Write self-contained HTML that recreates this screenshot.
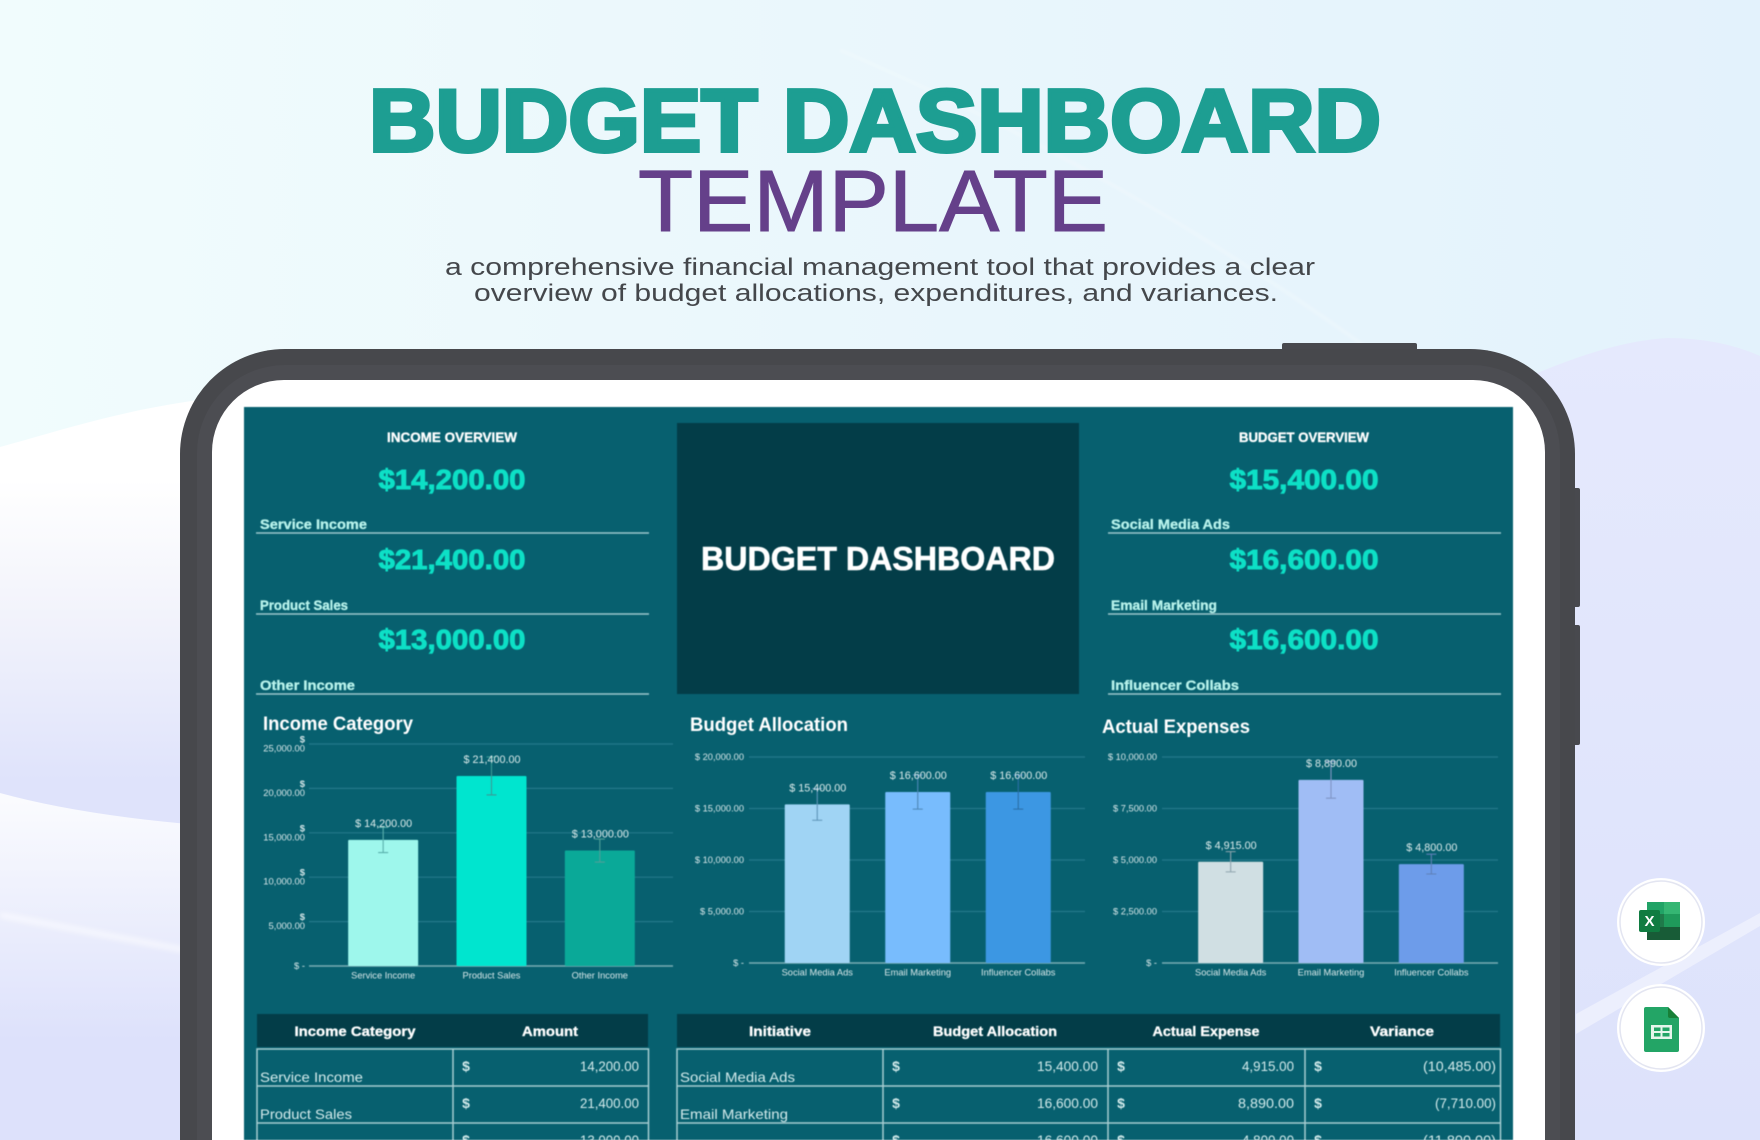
<!DOCTYPE html>
<html lang="en">
<head>
<meta charset="utf-8">
<title>Budget Dashboard Template</title>
<style>
html,body{margin:0;padding:0;width:1760px;height:1140px;overflow:hidden;background:#eaf6fc}
svg{display:block;font-family:"Liberation Sans",sans-serif;overflow:hidden}
.kpi-head{font-size:13.5px;font-weight:700;fill:#fff;stroke:#fff;stroke-width:.3;text-anchor:middle}
.kpi-val{font-size:28px;font-weight:700;fill:#0de0c6;stroke:#0de0c6;stroke-width:.9;text-anchor:middle}
.kpi-lab{font-size:13.5px;font-weight:700;fill:#b8f3ec;stroke:#b8f3ec;stroke-width:.3}
.chart-title{font-size:19px;font-weight:700;fill:#fff}
.th{font-size:14px;font-weight:700;fill:#fff;stroke:#fff;stroke-width:.3;text-anchor:middle}
.td{font-size:14px;fill:#d3ebec}
.cur{font-size:14px;font-weight:700;fill:#d3ebec;text-anchor:middle}
.num{font-size:14px;fill:#d3ebec;text-anchor:end}
.rule{stroke:#9cc7cc;stroke-width:1.6}
.tl{stroke:#a6cdd2;stroke-width:1.5;fill:none}
</style>
</head>
<body>
<svg id="page" width="1760" height="1140" viewBox="0 0 1760 1140" xmlns="http://www.w3.org/2000/svg">
<defs>
<linearGradient id="topBg" x1="0" y1="0" x2="1" y2="0"><stop offset="0" stop-color="#f1fcfd"/><stop offset=".55" stop-color="#e9f6fc"/><stop offset="1" stop-color="#e3f2fc"/></linearGradient>
<linearGradient id="sweep1" gradientUnits="userSpaceOnUse" x1="0" y1="480" x2="0" y2="780"><stop offset="0" stop-color="#fff"/><stop offset=".45" stop-color="#f2f3fb"/><stop offset="1" stop-color="#dfe3fb"/></linearGradient>
<linearGradient id="sweep2" gradientUnits="userSpaceOnUse" x1="0" y1="800" x2="0" y2="1040"><stop offset="0" stop-color="#fafbfe"/><stop offset="1" stop-color="#dde1fb"/></linearGradient>
<linearGradient id="rightLav" gradientUnits="userSpaceOnUse" x1="0" y1="340" x2="0" y2="1140"><stop offset="0" stop-color="#e5e9fd"/><stop offset="1" stop-color="#dde2fb"/></linearGradient>
</defs>

<g>
<rect x="0" y="0" width="1760" height="1140" fill="url(#topBg)"/>
<path d="M0 447C80 425 150 400 280 392L700 380V1140H0Z" fill="url(#sweep1)"/>
<path d="M0 793Q80 815 200 825V1140H0Z" fill="url(#sweep2)"/>
<path d="M0 915Q90 932 185 950" stroke="#fff" stroke-opacity=".65" stroke-width="5" fill="none" style="filter:blur(3px)"/>
<path d="M1500 390Q1600 342 1667 338Q1720 338 1760 356V1140H1500Z" fill="url(#rightLav)"/>
<path d="M1576 1014L1760 913V926L1576 1034Z" fill="#fff" fill-opacity=".42"/>
<path d="M840 50Q1120 170 1370 350" stroke="#fff" stroke-opacity=".28" stroke-width="3" fill="none" style="filter:blur(1.5px)"/>
</g>

<g>
<text x="369" y="151" font-size="88" font-weight="700" fill="#1d9e92" stroke="#1d9e92" stroke-width="4" textLength="1012" lengthAdjust="spacingAndGlyphs">BUDGET DASHBOARD</text>
<text x="638" y="231" font-size="87" fill="#65408a" stroke="#65408a" stroke-width="1" textLength="470" lengthAdjust="spacingAndGlyphs">TEMPLATE</text>
<text x="445" y="275" font-size="24" fill="#44474b" textLength="870" lengthAdjust="spacingAndGlyphs">a comprehensive financial management tool that provides a clear</text>
<text x="474" y="301" font-size="24" fill="#44474b" textLength="804" lengthAdjust="spacingAndGlyphs">overview of budget allocations, expenditures, and variances.</text>
</g>

<g>
<rect x="1282" y="343" width="135" height="12" rx="2" fill="#48494e"/>
<rect x="1570" y="488" width="10" height="119" rx="2" fill="#48494e"/>
<rect x="1570" y="625" width="10" height="120" rx="2" fill="#48494e"/>
<path d="M180 1140V454a105 105 0 0 1 105-105H1470a105 105 0 0 1 105 105V1140Z" fill="#47484c"/>
<path d="M197 1140V453a88 88 0 0 1 88-88H1472a88 88 0 0 1 88 88V1140Z" fill="#4c4d52"/>
<path d="M212 1140V452a72 72 0 0 1 72-72H1473a72 72 0 0 1 72 72V1140Z" fill="#fff"/>
</g>

<g id="dash" style="filter:blur(.55px)">
<rect x="244" y="407" width="1269" height="733" fill="#07606f"/>

<g>
<text class="kpi-head" x="452" y="442" textLength="130" lengthAdjust="spacingAndGlyphs">INCOME OVERVIEW</text>
<text class="kpi-val" x="452" y="489" textLength="147" lengthAdjust="spacingAndGlyphs">$14,200.00</text>
<text class="kpi-lab" x="260" y="529" textLength="107" lengthAdjust="spacingAndGlyphs">Service Income</text>
<line class="rule" x1="256" x2="649" y1="533" y2="533"/>
<text class="kpi-val" x="452" y="569" textLength="147" lengthAdjust="spacingAndGlyphs">$21,400.00</text>
<text class="kpi-lab" x="260" y="610" textLength="88" lengthAdjust="spacingAndGlyphs">Product Sales</text>
<line class="rule" x1="256" x2="649" y1="614" y2="614"/>
<text class="kpi-val" x="452" y="649" textLength="147" lengthAdjust="spacingAndGlyphs">$13,000.00</text>
<text class="kpi-lab" x="260" y="690" textLength="95" lengthAdjust="spacingAndGlyphs">Other Income</text>
<line class="rule" x1="256" x2="649" y1="694" y2="694"/>
</g>

<g>
<rect x="677" y="423" width="402" height="271" fill="#033d48"/>
<text x="701" y="570" font-size="33" font-weight="700" fill="#fff" stroke="#fff" stroke-width=".6" textLength="354" lengthAdjust="spacingAndGlyphs">BUDGET DASHBOARD</text>
</g>

<g>
<text class="kpi-head" x="1304" y="442" textLength="130" lengthAdjust="spacingAndGlyphs">BUDGET OVERVIEW</text>
<text class="kpi-val" x="1304" y="489" textLength="149" lengthAdjust="spacingAndGlyphs">$15,400.00</text>
<text class="kpi-lab" x="1111" y="529" textLength="119" lengthAdjust="spacingAndGlyphs">Social Media Ads</text>
<line class="rule" x1="1108" x2="1501" y1="533" y2="533"/>
<text class="kpi-val" x="1304" y="569" textLength="149" lengthAdjust="spacingAndGlyphs">$16,600.00</text>
<text class="kpi-lab" x="1111" y="610" textLength="106" lengthAdjust="spacingAndGlyphs">Email Marketing</text>
<line class="rule" x1="1108" x2="1501" y1="614" y2="614"/>
<text class="kpi-val" x="1304" y="649" textLength="149" lengthAdjust="spacingAndGlyphs">$16,600.00</text>
<text class="kpi-lab" x="1111" y="690" textLength="128" lengthAdjust="spacingAndGlyphs">Influencer Collabs</text>
<line class="rule" x1="1108" x2="1501" y1="694" y2="694"/>
</g>

<text class="chart-title" x="263" y="730" textLength="150" lengthAdjust="spacingAndGlyphs">Income Category</text>
<text class="chart-title" x="690" y="731" textLength="158" lengthAdjust="spacingAndGlyphs">Budget Allocation</text>
<text class="chart-title" x="1102" y="733" textLength="148" lengthAdjust="spacingAndGlyphs">Actual Expenses</text>
<g id="income-chart"></g>
<g id="budget-chart"></g>
<g id="expense-chart"></g>

<g>
<rect x="257" y="1014" width="391" height="33" fill="#033d48"/>
<text class="th" x="355" y="1036" textLength="121" lengthAdjust="spacingAndGlyphs">Income Category</text>
<text class="th" x="550" y="1036" textLength="56" lengthAdjust="spacingAndGlyphs">Amount</text>
<path class="tl" d="M257 1140V1049H648.5V1140"/>
<line class="tl" x1="257" x2="649" y1="1086" y2="1086"/>
<line class="tl" x1="257" x2="649" y1="1123" y2="1123"/>
<line class="tl" x1="453" x2="453" y1="1049" y2="1140"/>
<text class="td" x="260" y="1082" textLength="103" lengthAdjust="spacingAndGlyphs">Service Income</text>
<text class="cur" x="466" y="1071">$</text>
<text class="num" x="639" y="1071" textLength="59" lengthAdjust="spacingAndGlyphs">14,200.00</text>
<text class="td" x="260" y="1119" textLength="92" lengthAdjust="spacingAndGlyphs">Product Sales</text>
<text class="cur" x="466" y="1108">$</text>
<text class="num" x="639" y="1108" textLength="59" lengthAdjust="spacingAndGlyphs">21,400.00</text>
<text class="cur" x="466" y="1145">$</text>
<text class="num" x="639" y="1145" textLength="59" lengthAdjust="spacingAndGlyphs">13,000.00</text>
</g>

<g>
<rect x="677" y="1014" width="823" height="33" fill="#033d48"/>
<text class="th" x="780" y="1036" textLength="62" lengthAdjust="spacingAndGlyphs">Initiative</text>
<text class="th" x="995" y="1036" textLength="124" lengthAdjust="spacingAndGlyphs">Budget Allocation</text>
<text class="th" x="1206" y="1036" textLength="107" lengthAdjust="spacingAndGlyphs">Actual Expense</text>
<text class="th" x="1402" y="1036" textLength="64" lengthAdjust="spacingAndGlyphs">Variance</text>
<path class="tl" d="M677 1140V1049H1500.5V1140"/>
<line class="tl" x1="677" x2="1501" y1="1086" y2="1086"/>
<line class="tl" x1="677" x2="1501" y1="1123" y2="1123"/>
<line class="tl" x1="883" x2="883" y1="1049" y2="1140"/>
<line class="tl" x1="1108" x2="1108" y1="1049" y2="1140"/>
<line class="tl" x1="1305" x2="1305" y1="1049" y2="1140"/>

<text class="td" x="680" y="1082" textLength="115" lengthAdjust="spacingAndGlyphs">Social Media Ads</text>
<text class="cur" x="896" y="1071">$</text>
<text class="num" x="1098" y="1071" textLength="61" lengthAdjust="spacingAndGlyphs">15,400.00</text>
<text class="cur" x="1121" y="1071">$</text>
<text class="num" x="1294" y="1071" textLength="52" lengthAdjust="spacingAndGlyphs">4,915.00</text>
<text class="cur" x="1318" y="1071">$</text>
<text class="num" x="1496" y="1071" textLength="73" lengthAdjust="spacingAndGlyphs">(10,485.00)</text>

<text class="td" x="680" y="1119" textLength="108" lengthAdjust="spacingAndGlyphs">Email Marketing</text>
<text class="cur" x="896" y="1108">$</text>
<text class="num" x="1098" y="1108" textLength="61" lengthAdjust="spacingAndGlyphs">16,600.00</text>
<text class="cur" x="1121" y="1108">$</text>
<text class="num" x="1294" y="1108" textLength="56" lengthAdjust="spacingAndGlyphs">8,890.00</text>
<text class="cur" x="1318" y="1108">$</text>
<text class="num" x="1496" y="1108" textLength="61" lengthAdjust="spacingAndGlyphs">(7,710.00)</text>

<text class="cur" x="896" y="1145">$</text>
<text class="num" x="1098" y="1145" textLength="61" lengthAdjust="spacingAndGlyphs">16,600.00</text>
<text class="cur" x="1121" y="1145">$</text>
<text class="num" x="1294" y="1145" textLength="52" lengthAdjust="spacingAndGlyphs">4,800.00</text>
<text class="cur" x="1318" y="1145">$</text>
<text class="num" x="1496" y="1145" textLength="73" lengthAdjust="spacingAndGlyphs">(11,800.00)</text>
</g>
</g>

<g>
<circle cx="1661" cy="922" r="44" fill="#fff"/>
<circle cx="1661" cy="922" r="41" fill="none" stroke="#e3e5f1" stroke-width="1.5"/>
<rect x="1647" y="902" width="33" height="38" rx="1.5" fill="#1f7a4a"/>
<rect x="1664" y="902" width="16" height="12" fill="#35b673"/>
<rect x="1664" y="914" width="16" height="13" fill="#1f9a5b"/>
<rect x="1647" y="902" width="17" height="12" fill="#21a366"/>
<rect x="1647" y="927" width="33" height="13" fill="#185c37"/>
<rect x="1639" y="910" width="21" height="22" rx="2" fill="#107c41"/>
<text x="1649.5" y="926" font-size="15" font-weight="700" fill="#fff" text-anchor="middle">X</text>
</g>
<g>
<circle cx="1661" cy="1028" r="44" fill="#fff"/>
<circle cx="1661" cy="1028" r="41" fill="none" stroke="#e3e5f1" stroke-width="1.5"/>
<path d="M1646 1007H1668L1679 1018V1050a2 2 0 0 1-2 2H1646a2 2 0 0 1-2-2V1009a2 2 0 0 1 2-2Z" fill="#23a566"/>
<path d="M1668 1007L1679 1018H1670a2 2 0 0 1-2-2Z" fill="#188038"/>
<path fill-rule="evenodd" d="M1651 1025H1672V1039H1651ZM1654 1027.5V1031H1660.5V1027.5ZM1662.5 1027.5V1031H1669.5V1027.5ZM1654 1033V1036.5H1660.5V1033ZM1662.5 1033V1036.5H1669.5V1033Z" fill="#e6f5ec"/>
</g>
</svg>

<script>
const incomeCategories = ["Service Income", "Product Sales", "Other Income"];
const incomeValues = [14200, 21400, 13000];
const incomeTicks = [0, 5000, 10000, 15000, 20000, 25000];

const budgetCategories = ["Social Media Ads", "Email Marketing", "Influencer Collabs"];
const budgetValues = [15400, 16600, 16600];
const budgetTicks = [0, 5000, 10000, 15000, 20000];

const expenseCategories = ["Social Media Ads", "Email Marketing", "Influencer Collabs"];
const expenseValues = [4915, 8890, 4800];
const expenseTicks = [0, 2500, 5000, 7500, 10000];

const errorShare = [0.1];

const SVG_NS = "http://www.w3.org/2000/svg";

function money(v) {
  return v.toLocaleString("en-US", { minimumFractionDigits: 2, maximumFractionDigits: 2 });
}

function make(tag, parent, attrs, content) {
  const el = document.createElementNS(SVG_NS, tag);
  for (const k in attrs) el.setAttribute(k, attrs[k]);
  if (content !== undefined) el.textContent = content;
  parent.appendChild(el);
  return el;
}

function renderChart(id, categories, values, ticks, o) {
  const root = document.getElementById(id);
  const maxTick = ticks[ticks.length - 1];
  const yScale = v => o.baseY - (v / maxTick) * (o.baseY - o.topY);
  const band = (o.bandRight - o.bandLeft) / categories.length;
  const xScale = i => o.bandLeft + band * (i + 0.5);

  ticks.forEach(t => {
    const y = yScale(t);
    const grid = make("line", root, { x1: o.left, x2: o.right, y1: y, y2: y, stroke: t === 0 ? "#79adb5" : "#24788a", "stroke-width": t === 0 ? 1.6 : 1.2 });
    
    
    if (t === 0) {
      const zero = make("text", root, { x: o.tickX, y: y + 3, "font-size": o.tickSize, fill: "#d8e8ea", "text-anchor": "end" }, "$ -");
      
      
    } else if (o.twoLineTicks) {
      const sym = make("text", root, { x: o.tickX, y: y - 1.5, "font-size": o.tickSize, "font-weight": 700, fill: "#d8e8ea", "text-anchor": "end" }, "$");
      
      
      const num = make("text", root, { x: o.tickX, y: y + 7.5, "font-size": o.tickSize, fill: "#d8e8ea", "text-anchor": "end" }, money(t));
      
      
    } else {
      const lab = make("text", root, { x: o.tickX, y: y + 3, "font-size": o.tickSize, fill: "#d8e8ea", "text-anchor": "end" }, "$ " + money(t));
      
      
    }
  });

  values.forEach((v, i) => {
    const cx = xScale(i);
    const top = yScale(v);
    const bar = make("rect", root, { x: cx - o.barWidth / 2, y: top, width: o.barWidth, height: o.baseY - top, rx: 1, fill: o.barColors[i] });
    
    

    const err = v * errorShare[0];
    const hiY = yScale(v + err);
    const loY = yScale(v - err);
    const whisker = make("path", root, {
      d: `M${cx} ${hiY}V${loY}M${cx - 5} ${loY}H${cx + 5}M${cx - 5} ${hiY}H${cx + 5}`,
      stroke: o.errorColors[i], "stroke-width": 1.1, fill: "none"
    });
    
    

    const value = make("text", root, { x: cx + 0.5, y: top - 13, "font-size": 10.8, fill: "#dcecec", "text-anchor": "middle" }, "$ " + money(v));
    
    

    const cat = make("text", root, { x: cx, y: o.baseY + 12.5, "font-size": o.catSize, fill: "#d8e8ea", "text-anchor": "middle" }, categories[i]);
    
    
  });
}

renderChart("income-chart", incomeCategories, incomeValues, incomeTicks, {
  left: 309, right: 673, topY: 744, baseY: 966, bandLeft: 329, bandRight: 654, barWidth: 70,
  tickX: 305, tickSize: 9.4, catSize: 9.3, twoLineTicks: true,
  barColors: ["#9ef7ec", "#00e5cf", "#0aa998"],
  errorColors: ["#5ab0ac", "#3a9a96", "#4f9f98"]
});
renderChart("budget-chart", budgetCategories, budgetValues, budgetTicks, {
  left: 749, right: 1085, topY: 757, baseY: 963, bandLeft: 767, bandRight: 1068.5, barWidth: 65,
  tickX: 744, tickSize: 9.3, catSize: 9.3, twoLineTicks: false,
  barColors: ["#a0d4f4", "#78bcfd", "#3c97e3"],
  errorColors: ["#5e94b8", "#4c86b6", "#2a6ea6"]
});
renderChart("expense-chart", expenseCategories, expenseValues, expenseTicks, {
  left: 1162, right: 1498, topY: 757, baseY: 963, bandLeft: 1180.5, bandRight: 1481.5, barWidth: 65,
  tickX: 1157, tickSize: 9.3, catSize: 9.3, twoLineTicks: false,
  barColors: ["#d0dfe3", "#a0bdf5", "#6d9cea"],
  errorColors: ["#8fa5ae", "#7f95c4", "#5f80b8"]
});
</script>
</body>
</html>
